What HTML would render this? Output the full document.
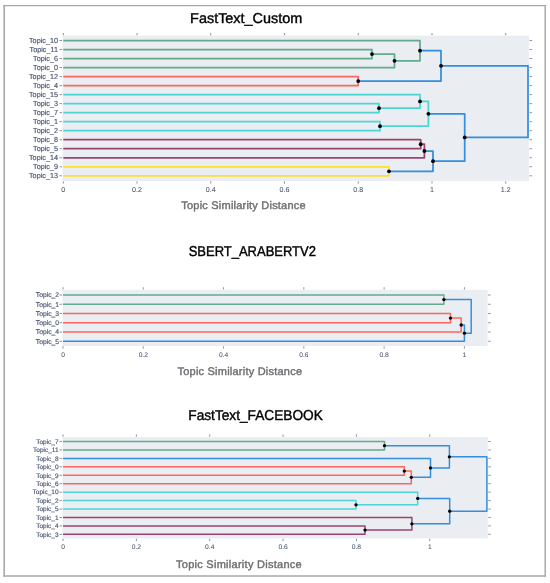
<!DOCTYPE html>
<html><head><meta charset="utf-8"><title>Topic Similarity Dendrograms</title>
<style>
html,body{margin:0;padding:0;background:#fff;}
body{width:550px;height:583px;overflow:hidden;position:relative;}
svg{position:absolute;left:0;top:0;font-family:'Liberation Sans', Arial, Helvetica, sans-serif;text-rendering:geometricPrecision;}
</style></head><body>
<svg width="550" height="583" viewBox="0 0 550 583">
<g stroke="#a8a8a8" fill="none"><line x1="3.5" y1="5.6" x2="546" y2="5.6" stroke-width="1.15"/><line x1="3.5" y1="576" x2="546" y2="576" stroke-width="1.35"/><line x1="4.2" y1="5" x2="4.2" y2="576.7" stroke-width="1.6"/><line x1="545.2" y1="5" x2="545.2" y2="576.7" stroke-width="1.45"/></g>
<rect x="62.5" y="35.6" width="466.50" height="145.40" fill="#EAEDF1"/>
<line x1="59.50" y1="40.50" x2="62.00" y2="40.50" stroke="#7d8796" stroke-width="0.9"/>
<line x1="529.50" y1="40.50" x2="532.00" y2="40.50" stroke="#7d8796" stroke-width="0.9"/>
<text x="58.0" y="43.04" text-anchor="end" font-size="7.25" fill="#46536f" stroke="#46536f" stroke-width="0.15">Topic_10</text>
<line x1="59.50" y1="49.52" x2="62.00" y2="49.52" stroke="#7d8796" stroke-width="0.9"/>
<line x1="529.50" y1="49.52" x2="532.00" y2="49.52" stroke="#7d8796" stroke-width="0.9"/>
<text x="58.0" y="52.06" text-anchor="end" font-size="7.25" fill="#46536f" stroke="#46536f" stroke-width="0.15">Topic_11</text>
<line x1="59.50" y1="58.54" x2="62.00" y2="58.54" stroke="#7d8796" stroke-width="0.9"/>
<line x1="529.50" y1="58.54" x2="532.00" y2="58.54" stroke="#7d8796" stroke-width="0.9"/>
<text x="58.0" y="61.08" text-anchor="end" font-size="7.25" fill="#46536f" stroke="#46536f" stroke-width="0.15">Topic_6</text>
<line x1="59.50" y1="67.56" x2="62.00" y2="67.56" stroke="#7d8796" stroke-width="0.9"/>
<line x1="529.50" y1="67.56" x2="532.00" y2="67.56" stroke="#7d8796" stroke-width="0.9"/>
<text x="58.0" y="70.10" text-anchor="end" font-size="7.25" fill="#46536f" stroke="#46536f" stroke-width="0.15">Topic_0</text>
<line x1="59.50" y1="76.58" x2="62.00" y2="76.58" stroke="#7d8796" stroke-width="0.9"/>
<line x1="529.50" y1="76.58" x2="532.00" y2="76.58" stroke="#7d8796" stroke-width="0.9"/>
<text x="58.0" y="79.12" text-anchor="end" font-size="7.25" fill="#46536f" stroke="#46536f" stroke-width="0.15">Topic_12</text>
<line x1="59.50" y1="85.60" x2="62.00" y2="85.60" stroke="#7d8796" stroke-width="0.9"/>
<line x1="529.50" y1="85.60" x2="532.00" y2="85.60" stroke="#7d8796" stroke-width="0.9"/>
<text x="58.0" y="88.14" text-anchor="end" font-size="7.25" fill="#46536f" stroke="#46536f" stroke-width="0.15">Topic_4</text>
<line x1="59.50" y1="94.62" x2="62.00" y2="94.62" stroke="#7d8796" stroke-width="0.9"/>
<line x1="529.50" y1="94.62" x2="532.00" y2="94.62" stroke="#7d8796" stroke-width="0.9"/>
<text x="58.0" y="97.16" text-anchor="end" font-size="7.25" fill="#46536f" stroke="#46536f" stroke-width="0.15">Topic_15</text>
<line x1="59.50" y1="103.64" x2="62.00" y2="103.64" stroke="#7d8796" stroke-width="0.9"/>
<line x1="529.50" y1="103.64" x2="532.00" y2="103.64" stroke="#7d8796" stroke-width="0.9"/>
<text x="58.0" y="106.18" text-anchor="end" font-size="7.25" fill="#46536f" stroke="#46536f" stroke-width="0.15">Topic_3</text>
<line x1="59.50" y1="112.66" x2="62.00" y2="112.66" stroke="#7d8796" stroke-width="0.9"/>
<line x1="529.50" y1="112.66" x2="532.00" y2="112.66" stroke="#7d8796" stroke-width="0.9"/>
<text x="58.0" y="115.20" text-anchor="end" font-size="7.25" fill="#46536f" stroke="#46536f" stroke-width="0.15">Topic_7</text>
<line x1="59.50" y1="121.68" x2="62.00" y2="121.68" stroke="#7d8796" stroke-width="0.9"/>
<line x1="529.50" y1="121.68" x2="532.00" y2="121.68" stroke="#7d8796" stroke-width="0.9"/>
<text x="58.0" y="124.22" text-anchor="end" font-size="7.25" fill="#46536f" stroke="#46536f" stroke-width="0.15">Topic_1</text>
<line x1="59.50" y1="130.70" x2="62.00" y2="130.70" stroke="#7d8796" stroke-width="0.9"/>
<line x1="529.50" y1="130.70" x2="532.00" y2="130.70" stroke="#7d8796" stroke-width="0.9"/>
<text x="58.0" y="133.24" text-anchor="end" font-size="7.25" fill="#46536f" stroke="#46536f" stroke-width="0.15">Topic_2</text>
<line x1="59.50" y1="139.72" x2="62.00" y2="139.72" stroke="#7d8796" stroke-width="0.9"/>
<line x1="529.50" y1="139.72" x2="532.00" y2="139.72" stroke="#7d8796" stroke-width="0.9"/>
<text x="58.0" y="142.26" text-anchor="end" font-size="7.25" fill="#46536f" stroke="#46536f" stroke-width="0.15">Topic_8</text>
<line x1="59.50" y1="148.74" x2="62.00" y2="148.74" stroke="#7d8796" stroke-width="0.9"/>
<line x1="529.50" y1="148.74" x2="532.00" y2="148.74" stroke="#7d8796" stroke-width="0.9"/>
<text x="58.0" y="151.28" text-anchor="end" font-size="7.25" fill="#46536f" stroke="#46536f" stroke-width="0.15">Topic_5</text>
<line x1="59.50" y1="157.76" x2="62.00" y2="157.76" stroke="#7d8796" stroke-width="0.9"/>
<line x1="529.50" y1="157.76" x2="532.00" y2="157.76" stroke="#7d8796" stroke-width="0.9"/>
<text x="58.0" y="160.30" text-anchor="end" font-size="7.25" fill="#46536f" stroke="#46536f" stroke-width="0.15">Topic_14</text>
<line x1="59.50" y1="166.78" x2="62.00" y2="166.78" stroke="#7d8796" stroke-width="0.9"/>
<line x1="529.50" y1="166.78" x2="532.00" y2="166.78" stroke="#7d8796" stroke-width="0.9"/>
<text x="58.0" y="169.32" text-anchor="end" font-size="7.25" fill="#46536f" stroke="#46536f" stroke-width="0.15">Topic_9</text>
<line x1="59.50" y1="175.80" x2="62.00" y2="175.80" stroke="#7d8796" stroke-width="0.9"/>
<line x1="529.50" y1="175.80" x2="532.00" y2="175.80" stroke="#7d8796" stroke-width="0.9"/>
<text x="58.0" y="178.34" text-anchor="end" font-size="7.25" fill="#46536f" stroke="#46536f" stroke-width="0.15">Topic_13</text>
<line x1="63.30" y1="33.00" x2="63.30" y2="35.30" stroke="#7d8796" stroke-width="0.9"/>
<line x1="63.30" y1="181.30" x2="63.30" y2="183.60" stroke="#7d8796" stroke-width="0.9"/>
<text x="63.30" y="191.69" text-anchor="middle" font-size="7.1" fill="#46536f" stroke="#46536f" stroke-width="0.06">0</text>
<line x1="137.04" y1="33.00" x2="137.04" y2="35.30" stroke="#7d8796" stroke-width="0.9"/>
<line x1="137.04" y1="181.30" x2="137.04" y2="183.60" stroke="#7d8796" stroke-width="0.9"/>
<text x="137.04" y="191.69" text-anchor="middle" font-size="7.1" fill="#46536f" stroke="#46536f" stroke-width="0.06">0.2</text>
<line x1="210.78" y1="33.00" x2="210.78" y2="35.30" stroke="#7d8796" stroke-width="0.9"/>
<line x1="210.78" y1="181.30" x2="210.78" y2="183.60" stroke="#7d8796" stroke-width="0.9"/>
<text x="210.78" y="191.69" text-anchor="middle" font-size="7.1" fill="#46536f" stroke="#46536f" stroke-width="0.06">0.4</text>
<line x1="284.52" y1="33.00" x2="284.52" y2="35.30" stroke="#7d8796" stroke-width="0.9"/>
<line x1="284.52" y1="181.30" x2="284.52" y2="183.60" stroke="#7d8796" stroke-width="0.9"/>
<text x="284.52" y="191.69" text-anchor="middle" font-size="7.1" fill="#46536f" stroke="#46536f" stroke-width="0.06">0.6</text>
<line x1="358.26" y1="33.00" x2="358.26" y2="35.30" stroke="#7d8796" stroke-width="0.9"/>
<line x1="358.26" y1="181.30" x2="358.26" y2="183.60" stroke="#7d8796" stroke-width="0.9"/>
<text x="358.26" y="191.69" text-anchor="middle" font-size="7.1" fill="#46536f" stroke="#46536f" stroke-width="0.06">0.8</text>
<line x1="432.00" y1="33.00" x2="432.00" y2="35.30" stroke="#7d8796" stroke-width="0.9"/>
<line x1="432.00" y1="181.30" x2="432.00" y2="183.60" stroke="#7d8796" stroke-width="0.9"/>
<text x="432.00" y="191.69" text-anchor="middle" font-size="7.1" fill="#46536f" stroke="#46536f" stroke-width="0.06">1</text>
<line x1="505.74" y1="33.00" x2="505.74" y2="35.30" stroke="#7d8796" stroke-width="0.9"/>
<line x1="505.74" y1="181.30" x2="505.74" y2="183.60" stroke="#7d8796" stroke-width="0.9"/>
<text x="505.74" y="191.69" text-anchor="middle" font-size="7.1" fill="#46536f" stroke="#46536f" stroke-width="0.06">1.2</text>
<path d="M63.30,49.52H372.00V58.54H63.30" fill="none" stroke="rgb(61,153,112)" stroke-opacity="0.78" stroke-width="1.75" stroke-linejoin="round"/>
<path d="M372.00,54.03H394.50V67.56H63.30" fill="none" stroke="rgb(61,153,112)" stroke-opacity="0.78" stroke-width="1.75" stroke-linejoin="round"/>
<path d="M63.30,40.50H420.00V60.80H394.50" fill="none" stroke="rgb(61,153,112)" stroke-opacity="0.78" stroke-width="1.75" stroke-linejoin="round"/>
<path d="M63.30,76.58H358.20V85.60H63.30" fill="none" stroke="rgb(255,65,54)" stroke-opacity="0.78" stroke-width="1.75" stroke-linejoin="round"/>
<path d="M420.00,50.65H441.00V81.09H358.20" fill="none" stroke="rgb(0,116,217)" stroke-opacity="0.78" stroke-width="1.75" stroke-linejoin="round"/>
<path d="M63.30,103.64H379.00V112.66H63.30" fill="none" stroke="rgb(35,205,205)" stroke-opacity="0.78" stroke-width="1.75" stroke-linejoin="round"/>
<path d="M63.30,94.62H420.00V108.15H379.00" fill="none" stroke="rgb(35,205,205)" stroke-opacity="0.78" stroke-width="1.75" stroke-linejoin="round"/>
<path d="M63.30,121.68H380.00V130.70H63.30" fill="none" stroke="rgb(35,205,205)" stroke-opacity="0.78" stroke-width="1.75" stroke-linejoin="round"/>
<path d="M420.00,101.39H428.40V126.19H380.00" fill="none" stroke="rgb(35,205,205)" stroke-opacity="0.78" stroke-width="1.75" stroke-linejoin="round"/>
<path d="M63.30,139.72H420.70V148.74H63.30" fill="none" stroke="rgb(133,20,75)" stroke-opacity="0.78" stroke-width="1.75" stroke-linejoin="round"/>
<path d="M420.70,144.23H424.40V157.76H63.30" fill="none" stroke="rgb(133,20,75)" stroke-opacity="0.78" stroke-width="1.75" stroke-linejoin="round"/>
<path d="M63.30,166.78H389.00V175.80H63.30" fill="none" stroke="rgb(255,220,0)" stroke-opacity="0.78" stroke-width="1.75" stroke-linejoin="round"/>
<path d="M424.40,151.00H433.00V171.29H389.00" fill="none" stroke="rgb(0,116,217)" stroke-opacity="0.78" stroke-width="1.75" stroke-linejoin="round"/>
<path d="M428.40,113.79H464.70V161.14H433.00" fill="none" stroke="rgb(0,116,217)" stroke-opacity="0.78" stroke-width="1.75" stroke-linejoin="round"/>
<path d="M441.00,65.87H528.00V137.46H464.70" fill="none" stroke="rgb(0,116,217)" stroke-opacity="0.78" stroke-width="1.75" stroke-linejoin="round"/>
<circle cx="372.00" cy="54.03" r="1.9" fill="#000"/>
<circle cx="394.50" cy="60.80" r="1.9" fill="#000"/>
<circle cx="420.00" cy="50.65" r="1.9" fill="#000"/>
<circle cx="358.20" cy="81.09" r="1.9" fill="#000"/>
<circle cx="441.00" cy="65.87" r="1.9" fill="#000"/>
<circle cx="379.00" cy="108.15" r="1.9" fill="#000"/>
<circle cx="420.00" cy="101.39" r="1.9" fill="#000"/>
<circle cx="380.00" cy="126.19" r="1.9" fill="#000"/>
<circle cx="428.40" cy="113.79" r="1.9" fill="#000"/>
<circle cx="420.70" cy="144.23" r="1.9" fill="#000"/>
<circle cx="424.40" cy="151.00" r="1.9" fill="#000"/>
<circle cx="389.00" cy="171.29" r="1.9" fill="#000"/>
<circle cx="433.00" cy="161.14" r="1.9" fill="#000"/>
<circle cx="464.70" cy="137.46" r="1.9" fill="#000"/>
<text x="190.1" y="22.6" font-size="14.3" fill="#000" stroke="#000" stroke-width="0.4" textLength="112.2" lengthAdjust="spacingAndGlyphs">FastText_Custom</text>
<text x="181.3" y="208.7" font-size="11" fill="#6e6e73" stroke="#6e6e73" stroke-width="0.4" textLength="124.3" lengthAdjust="spacing">Topic Similarity Distance</text>
<rect x="62.5" y="289.8" width="425.10" height="56.20" fill="#EAEDF1"/>
<line x1="59.50" y1="295.00" x2="62.00" y2="295.00" stroke="#7d8796" stroke-width="0.9"/>
<line x1="488.10" y1="295.00" x2="490.60" y2="295.00" stroke="#7d8796" stroke-width="0.9"/>
<text x="59.1" y="297.36" text-anchor="end" font-size="6.75" fill="#46536f" stroke="#46536f" stroke-width="0.15">Topic_2</text>
<line x1="59.50" y1="304.25" x2="62.00" y2="304.25" stroke="#7d8796" stroke-width="0.9"/>
<line x1="488.10" y1="304.25" x2="490.60" y2="304.25" stroke="#7d8796" stroke-width="0.9"/>
<text x="59.1" y="306.61" text-anchor="end" font-size="6.75" fill="#46536f" stroke="#46536f" stroke-width="0.15">Topic_1</text>
<line x1="59.50" y1="313.50" x2="62.00" y2="313.50" stroke="#7d8796" stroke-width="0.9"/>
<line x1="488.10" y1="313.50" x2="490.60" y2="313.50" stroke="#7d8796" stroke-width="0.9"/>
<text x="59.1" y="315.86" text-anchor="end" font-size="6.75" fill="#46536f" stroke="#46536f" stroke-width="0.15">Topic_3</text>
<line x1="59.50" y1="322.75" x2="62.00" y2="322.75" stroke="#7d8796" stroke-width="0.9"/>
<line x1="488.10" y1="322.75" x2="490.60" y2="322.75" stroke="#7d8796" stroke-width="0.9"/>
<text x="59.1" y="325.11" text-anchor="end" font-size="6.75" fill="#46536f" stroke="#46536f" stroke-width="0.15">Topic_0</text>
<line x1="59.50" y1="332.00" x2="62.00" y2="332.00" stroke="#7d8796" stroke-width="0.9"/>
<line x1="488.10" y1="332.00" x2="490.60" y2="332.00" stroke="#7d8796" stroke-width="0.9"/>
<text x="59.1" y="334.36" text-anchor="end" font-size="6.75" fill="#46536f" stroke="#46536f" stroke-width="0.15">Topic_4</text>
<line x1="59.50" y1="341.25" x2="62.00" y2="341.25" stroke="#7d8796" stroke-width="0.9"/>
<line x1="488.10" y1="341.25" x2="490.60" y2="341.25" stroke="#7d8796" stroke-width="0.9"/>
<text x="59.1" y="343.61" text-anchor="end" font-size="6.75" fill="#46536f" stroke="#46536f" stroke-width="0.15">Topic_5</text>
<line x1="63.00" y1="287.20" x2="63.00" y2="289.50" stroke="#7d8796" stroke-width="0.9"/>
<line x1="63.00" y1="346.30" x2="63.00" y2="348.60" stroke="#7d8796" stroke-width="0.9"/>
<text x="63.00" y="357.05" text-anchor="middle" font-size="6.7" fill="#46536f" stroke="#46536f" stroke-width="0.06">0</text>
<line x1="143.28" y1="287.20" x2="143.28" y2="289.50" stroke="#7d8796" stroke-width="0.9"/>
<line x1="143.28" y1="346.30" x2="143.28" y2="348.60" stroke="#7d8796" stroke-width="0.9"/>
<text x="143.28" y="357.05" text-anchor="middle" font-size="6.7" fill="#46536f" stroke="#46536f" stroke-width="0.06">0.2</text>
<line x1="223.56" y1="287.20" x2="223.56" y2="289.50" stroke="#7d8796" stroke-width="0.9"/>
<line x1="223.56" y1="346.30" x2="223.56" y2="348.60" stroke="#7d8796" stroke-width="0.9"/>
<text x="223.56" y="357.05" text-anchor="middle" font-size="6.7" fill="#46536f" stroke="#46536f" stroke-width="0.06">0.4</text>
<line x1="303.84" y1="287.20" x2="303.84" y2="289.50" stroke="#7d8796" stroke-width="0.9"/>
<line x1="303.84" y1="346.30" x2="303.84" y2="348.60" stroke="#7d8796" stroke-width="0.9"/>
<text x="303.84" y="357.05" text-anchor="middle" font-size="6.7" fill="#46536f" stroke="#46536f" stroke-width="0.06">0.6</text>
<line x1="384.12" y1="287.20" x2="384.12" y2="289.50" stroke="#7d8796" stroke-width="0.9"/>
<line x1="384.12" y1="346.30" x2="384.12" y2="348.60" stroke="#7d8796" stroke-width="0.9"/>
<text x="384.12" y="357.05" text-anchor="middle" font-size="6.7" fill="#46536f" stroke="#46536f" stroke-width="0.06">0.8</text>
<line x1="464.40" y1="287.20" x2="464.40" y2="289.50" stroke="#7d8796" stroke-width="0.9"/>
<line x1="464.40" y1="346.30" x2="464.40" y2="348.60" stroke="#7d8796" stroke-width="0.9"/>
<text x="464.40" y="357.05" text-anchor="middle" font-size="6.7" fill="#46536f" stroke="#46536f" stroke-width="0.06">1</text>
<path d="M63.00,295.00H443.90V304.25H63.00" fill="none" stroke="rgb(61,153,112)" stroke-opacity="0.78" stroke-width="1.5" stroke-linejoin="round"/>
<path d="M63.00,313.50H450.50V322.75H63.00" fill="none" stroke="rgb(255,65,54)" stroke-opacity="0.78" stroke-width="1.5" stroke-linejoin="round"/>
<path d="M450.50,318.12H461.20V332.00H63.00" fill="none" stroke="rgb(255,65,54)" stroke-opacity="0.78" stroke-width="1.5" stroke-linejoin="round"/>
<path d="M461.20,325.06H464.40V341.25H63.00" fill="none" stroke="rgb(0,116,217)" stroke-opacity="0.78" stroke-width="1.5" stroke-linejoin="round"/>
<path d="M443.90,299.62H471.20V333.16H464.40" fill="none" stroke="rgb(0,116,217)" stroke-opacity="0.78" stroke-width="1.5" stroke-linejoin="round"/>
<circle cx="443.90" cy="299.62" r="1.7" fill="#000"/>
<circle cx="450.50" cy="318.12" r="1.7" fill="#000"/>
<circle cx="461.20" cy="325.06" r="1.7" fill="#000"/>
<circle cx="464.40" cy="333.16" r="1.7" fill="#000"/>
<text x="188.7" y="255.9" font-size="14.3" fill="#000" stroke="#000" stroke-width="0.4" textLength="127.2" lengthAdjust="spacingAndGlyphs">SBERT_ARABERTV2</text>
<text x="177.5" y="375.0" font-size="11" fill="#6e6e73" stroke="#6e6e73" stroke-width="0.4" textLength="124.5" lengthAdjust="spacing">Topic Similarity Distance</text>
<rect x="62.5" y="437" width="425.30" height="101.40" fill="#EAEDF1"/>
<line x1="59.50" y1="441.50" x2="62.00" y2="441.50" stroke="#7d8796" stroke-width="0.9"/>
<line x1="488.30" y1="441.50" x2="490.80" y2="441.50" stroke="#7d8796" stroke-width="0.9"/>
<text x="58.6" y="443.77" text-anchor="end" font-size="6.5" fill="#46536f" stroke="#46536f" stroke-width="0.15">Topic_7</text>
<line x1="59.50" y1="449.94" x2="62.00" y2="449.94" stroke="#7d8796" stroke-width="0.9"/>
<line x1="488.30" y1="449.94" x2="490.80" y2="449.94" stroke="#7d8796" stroke-width="0.9"/>
<text x="58.6" y="452.21" text-anchor="end" font-size="6.5" fill="#46536f" stroke="#46536f" stroke-width="0.15">Topic_11</text>
<line x1="59.50" y1="458.38" x2="62.00" y2="458.38" stroke="#7d8796" stroke-width="0.9"/>
<line x1="488.30" y1="458.38" x2="490.80" y2="458.38" stroke="#7d8796" stroke-width="0.9"/>
<text x="58.6" y="460.65" text-anchor="end" font-size="6.5" fill="#46536f" stroke="#46536f" stroke-width="0.15">Topic_8</text>
<line x1="59.50" y1="466.82" x2="62.00" y2="466.82" stroke="#7d8796" stroke-width="0.9"/>
<line x1="488.30" y1="466.82" x2="490.80" y2="466.82" stroke="#7d8796" stroke-width="0.9"/>
<text x="58.6" y="469.09" text-anchor="end" font-size="6.5" fill="#46536f" stroke="#46536f" stroke-width="0.15">Topic_0</text>
<line x1="59.50" y1="475.26" x2="62.00" y2="475.26" stroke="#7d8796" stroke-width="0.9"/>
<line x1="488.30" y1="475.26" x2="490.80" y2="475.26" stroke="#7d8796" stroke-width="0.9"/>
<text x="58.6" y="477.53" text-anchor="end" font-size="6.5" fill="#46536f" stroke="#46536f" stroke-width="0.15">Topic_9</text>
<line x1="59.50" y1="483.70" x2="62.00" y2="483.70" stroke="#7d8796" stroke-width="0.9"/>
<line x1="488.30" y1="483.70" x2="490.80" y2="483.70" stroke="#7d8796" stroke-width="0.9"/>
<text x="58.6" y="485.97" text-anchor="end" font-size="6.5" fill="#46536f" stroke="#46536f" stroke-width="0.15">Topic_6</text>
<line x1="59.50" y1="492.14" x2="62.00" y2="492.14" stroke="#7d8796" stroke-width="0.9"/>
<line x1="488.30" y1="492.14" x2="490.80" y2="492.14" stroke="#7d8796" stroke-width="0.9"/>
<text x="58.6" y="494.41" text-anchor="end" font-size="6.5" fill="#46536f" stroke="#46536f" stroke-width="0.15">Topic_10</text>
<line x1="59.50" y1="500.58" x2="62.00" y2="500.58" stroke="#7d8796" stroke-width="0.9"/>
<line x1="488.30" y1="500.58" x2="490.80" y2="500.58" stroke="#7d8796" stroke-width="0.9"/>
<text x="58.6" y="502.85" text-anchor="end" font-size="6.5" fill="#46536f" stroke="#46536f" stroke-width="0.15">Topic_2</text>
<line x1="59.50" y1="509.02" x2="62.00" y2="509.02" stroke="#7d8796" stroke-width="0.9"/>
<line x1="488.30" y1="509.02" x2="490.80" y2="509.02" stroke="#7d8796" stroke-width="0.9"/>
<text x="58.6" y="511.29" text-anchor="end" font-size="6.5" fill="#46536f" stroke="#46536f" stroke-width="0.15">Topic_5</text>
<line x1="59.50" y1="517.46" x2="62.00" y2="517.46" stroke="#7d8796" stroke-width="0.9"/>
<line x1="488.30" y1="517.46" x2="490.80" y2="517.46" stroke="#7d8796" stroke-width="0.9"/>
<text x="58.6" y="519.74" text-anchor="end" font-size="6.5" fill="#46536f" stroke="#46536f" stroke-width="0.15">Topic_1</text>
<line x1="59.50" y1="525.90" x2="62.00" y2="525.90" stroke="#7d8796" stroke-width="0.9"/>
<line x1="488.30" y1="525.90" x2="490.80" y2="525.90" stroke="#7d8796" stroke-width="0.9"/>
<text x="58.6" y="528.17" text-anchor="end" font-size="6.5" fill="#46536f" stroke="#46536f" stroke-width="0.15">Topic_4</text>
<line x1="59.50" y1="534.34" x2="62.00" y2="534.34" stroke="#7d8796" stroke-width="0.9"/>
<line x1="488.30" y1="534.34" x2="490.80" y2="534.34" stroke="#7d8796" stroke-width="0.9"/>
<text x="58.6" y="536.62" text-anchor="end" font-size="6.5" fill="#46536f" stroke="#46536f" stroke-width="0.15">Topic_3</text>
<line x1="63.00" y1="434.40" x2="63.00" y2="436.70" stroke="#7d8796" stroke-width="0.9"/>
<line x1="63.00" y1="538.70" x2="63.00" y2="541.00" stroke="#7d8796" stroke-width="0.9"/>
<text x="63.00" y="549.35" text-anchor="middle" font-size="6.7" fill="#46536f" stroke="#46536f" stroke-width="0.06">0</text>
<line x1="136.36" y1="434.40" x2="136.36" y2="436.70" stroke="#7d8796" stroke-width="0.9"/>
<line x1="136.36" y1="538.70" x2="136.36" y2="541.00" stroke="#7d8796" stroke-width="0.9"/>
<text x="136.36" y="549.35" text-anchor="middle" font-size="6.7" fill="#46536f" stroke="#46536f" stroke-width="0.06">0.2</text>
<line x1="209.72" y1="434.40" x2="209.72" y2="436.70" stroke="#7d8796" stroke-width="0.9"/>
<line x1="209.72" y1="538.70" x2="209.72" y2="541.00" stroke="#7d8796" stroke-width="0.9"/>
<text x="209.72" y="549.35" text-anchor="middle" font-size="6.7" fill="#46536f" stroke="#46536f" stroke-width="0.06">0.4</text>
<line x1="283.08" y1="434.40" x2="283.08" y2="436.70" stroke="#7d8796" stroke-width="0.9"/>
<line x1="283.08" y1="538.70" x2="283.08" y2="541.00" stroke="#7d8796" stroke-width="0.9"/>
<text x="283.08" y="549.35" text-anchor="middle" font-size="6.7" fill="#46536f" stroke="#46536f" stroke-width="0.06">0.6</text>
<line x1="356.44" y1="434.40" x2="356.44" y2="436.70" stroke="#7d8796" stroke-width="0.9"/>
<line x1="356.44" y1="538.70" x2="356.44" y2="541.00" stroke="#7d8796" stroke-width="0.9"/>
<text x="356.44" y="549.35" text-anchor="middle" font-size="6.7" fill="#46536f" stroke="#46536f" stroke-width="0.06">0.8</text>
<line x1="429.80" y1="434.40" x2="429.80" y2="436.70" stroke="#7d8796" stroke-width="0.9"/>
<line x1="429.80" y1="538.70" x2="429.80" y2="541.00" stroke="#7d8796" stroke-width="0.9"/>
<text x="429.80" y="549.35" text-anchor="middle" font-size="6.7" fill="#46536f" stroke="#46536f" stroke-width="0.06">1</text>
<path d="M63.00,441.50H384.50V449.94H63.00" fill="none" stroke="rgb(61,153,112)" stroke-opacity="0.78" stroke-width="1.5" stroke-linejoin="round"/>
<path d="M63.00,466.82H404.30V475.26H63.00" fill="none" stroke="rgb(255,65,54)" stroke-opacity="0.78" stroke-width="1.5" stroke-linejoin="round"/>
<path d="M404.30,471.04H411.30V483.70H63.00" fill="none" stroke="rgb(255,65,54)" stroke-opacity="0.78" stroke-width="1.5" stroke-linejoin="round"/>
<path d="M63.00,458.38H430.50V477.37H411.30" fill="none" stroke="rgb(0,116,217)" stroke-opacity="0.78" stroke-width="1.5" stroke-linejoin="round"/>
<path d="M384.50,445.72H449.40V467.88H430.50" fill="none" stroke="rgb(0,116,217)" stroke-opacity="0.78" stroke-width="1.5" stroke-linejoin="round"/>
<path d="M63.00,500.58H356.00V509.02H63.00" fill="none" stroke="rgb(35,205,205)" stroke-opacity="0.78" stroke-width="1.5" stroke-linejoin="round"/>
<path d="M63.00,492.14H417.70V504.80H356.00" fill="none" stroke="rgb(35,205,205)" stroke-opacity="0.78" stroke-width="1.5" stroke-linejoin="round"/>
<path d="M63.00,525.90H365.00V534.34H63.00" fill="none" stroke="rgb(133,20,75)" stroke-opacity="0.78" stroke-width="1.5" stroke-linejoin="round"/>
<path d="M63.00,517.46H411.90V530.12H365.00" fill="none" stroke="rgb(133,20,75)" stroke-opacity="0.78" stroke-width="1.5" stroke-linejoin="round"/>
<path d="M417.70,498.47H449.70V523.79H411.90" fill="none" stroke="rgb(0,116,217)" stroke-opacity="0.78" stroke-width="1.5" stroke-linejoin="round"/>
<path d="M449.40,456.80H486.90V511.13H449.70" fill="none" stroke="rgb(0,116,217)" stroke-opacity="0.78" stroke-width="1.5" stroke-linejoin="round"/>
<circle cx="384.50" cy="445.72" r="1.65" fill="#000"/>
<circle cx="404.30" cy="471.04" r="1.65" fill="#000"/>
<circle cx="411.30" cy="477.37" r="1.65" fill="#000"/>
<circle cx="430.50" cy="467.88" r="1.65" fill="#000"/>
<circle cx="449.40" cy="456.80" r="1.65" fill="#000"/>
<circle cx="356.00" cy="504.80" r="1.65" fill="#000"/>
<circle cx="417.70" cy="498.47" r="1.65" fill="#000"/>
<circle cx="365.00" cy="530.12" r="1.65" fill="#000"/>
<circle cx="411.90" cy="523.79" r="1.65" fill="#000"/>
<circle cx="449.70" cy="511.13" r="1.65" fill="#000"/>
<text x="188.3" y="420.1" font-size="14.3" fill="#000" stroke="#000" stroke-width="0.4" textLength="134.6" lengthAdjust="spacingAndGlyphs">FastText_FACEBOOK</text>
<text x="176" y="568.0" font-size="11" fill="#6e6e73" stroke="#6e6e73" stroke-width="0.4" textLength="125.7" lengthAdjust="spacing">Topic Similarity Distance</text>
</svg>
</body></html>
